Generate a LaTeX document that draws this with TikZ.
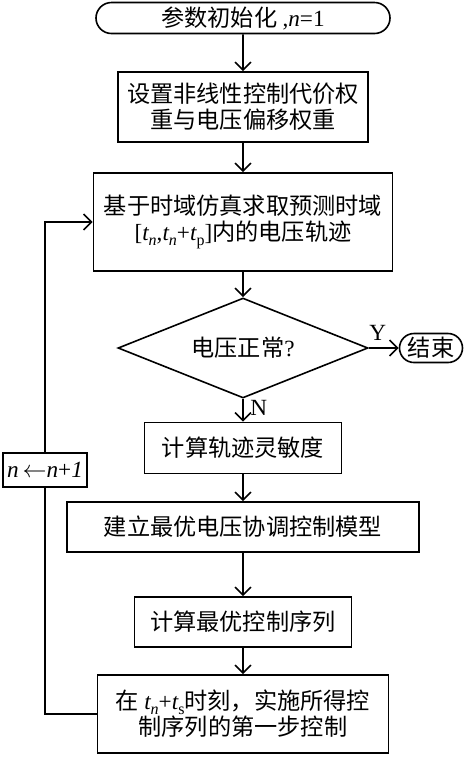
\documentclass[tikz,border=0pt]{standalone}
\usepackage{fontspec}
\setmainfont{Noto Sans CJK SC}
\newfontfamily\tnr{Liberation Serif}
\usetikzlibrary{shapes.geometric,shapes.misc,arrows.meta}
\newcommand\vi[1]{{\tnr\itshape #1}}
\newcommand\lat[1]{{\tnr #1}}
\newcommand\sbs[1]{\raisebox{-0.4ex}{\fontsize{8}{8}\selectfont #1}}
\tikzset{
	box/.style={draw,line width=0.8pt,align=center,inner sep=0pt},
	term/.style={box,rounded rectangle},
	flow/.style={line width=0.8pt,-{Straight Barb[length=4pt,width=8pt]}}
}
\begin{document}
\begin{tikzpicture}[x=0.5pt,y=-0.5pt,font=\fontsize{11.6}{13}\selectfont]
	\useasboundingbox (0,0) rectangle (474,757);
	\node[term,minimum width=147pt,minimum height=15.5pt] (init) at (243,18) {参数初始化 \lat{,}\vi{n}\lat{=1}};
	\node[box,minimum width=125pt,minimum height=35pt] (weight) at (243,107) {设置非线性控制代价权\\重与电压偏移权重};
	\node[box,minimum width=149.5pt,minimum height=49pt] (sim) at (243,222) {基于时域仿真求取预测时域\\\lat{[}\vi{t}\sbs{\vi{n}}\lat{,}\vi{t}\sbs{\vi{n}}\lat{+}\vi{t}\sbs{\lat{p}}\lat{]}内的电压轨迹};
	\node[box,diamond,aspect=2.5,minimum width=125pt,minimum height=50pt] (check) at (243,348) {电压正常\lat{?}};
	\node[term,minimum width=31.5pt,minimum height=14.5pt] (stop) at (431,348) {结束};
	\node[box,minimum width=98.5pt,minimum height=25.5pt] (sens) at (243,448) {计算轨迹灵敏度};
	\node[box,minimum width=42pt,minimum height=17pt] (inc) at (45,470) {\vi{n}\,$\leftarrow$\vi{n}\lat{+}\vi{1}};
	\node[box,minimum width=176pt,minimum height=25pt] (model) at (243,527) {建立最优电压协调控制模型};
	\node[box,minimum width=108.5pt,minimum height=25pt] (seq) at (243,622) {计算最优控制序列};
	\node[box,minimum width=145.5pt,minimum height=39pt] (apply) at (243,714) {在 \vi{t}\sbs{\vi{n}}\lat{+}\vi{t}\sbs{\lat{s}}时刻，实施所得控\\制序列的第一步控制};
	\draw[flow] (init) -- (weight);
	\draw[flow] (weight) -- (sim);
	\draw[flow] (sim) -- (check);
	\draw[flow] (check) -- node[pos=0.3,above]{\lat{Y}} (stop);
	\draw[flow] (check) -- node[pos=0.4,right]{\lat{N}} (sens);
	\draw[flow] (sens) -- (model);
	\draw[flow] (model) -- (seq);
	\draw[flow] (seq) -- (apply);
	\draw[line width=0.8pt] (apply.west) -| (inc.south);
	\draw[flow] (inc.north) |- (sim.west);
\end{tikzpicture}
\end{document}
